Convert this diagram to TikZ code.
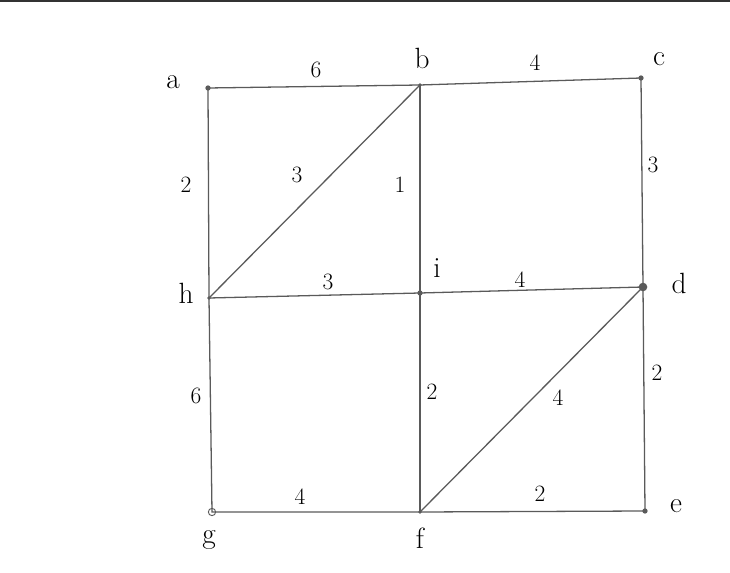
\documentclass[tikz,border=0pt]{standalone}
\usepackage{tikz}
\usetikzlibrary{calc,positioning}
\definecolor{pencil}{HTML}{5A5A5A}
\tikzset{
  edge/.style={draw=pencil,line width=1.1pt},
  dot/.style={circle,fill=pencil,inner sep=1.6pt},
  bigdot/.style={circle,fill=pencil,inner sep=2.6pt},
  vlabel/.style={font=\fontsize{25}{27}\selectfont},
  wlabel/.style={font=\fontsize{20}{22}\selectfont}
}

\begin{document}
\begin{tikzpicture}[x=0.03cm,y=-0.03cm]
  \useasboundingbox (0,0) rectangle (730,573);
  % frame line at the top
  \fill[black!80] (0,0) rectangle (730,2.5);
  % vertices
  \node[dot] (a) at (208,88) {};
  \node[dot,inner sep=1.2pt] (b) at (420,85) {};
  \node[dot] (c) at (641,78) {};
  \node[bigdot] (d) at (643,287) {};
  \node[dot] (e) at (645,511) {};
  \node[dot,inner sep=1.2pt] (f) at (420,512) {};
  \node[dot,fill=none,draw=pencil,thick,inner sep=2.2pt] (g) at (212,512) {};
  \node[dot,inner sep=1.2pt] (h) at (209,298) {};
  \node[dot] (i) at (420,293) {};
  % vertex names
  \node[vlabel] (la) at (173,82) {a};
  \node[vlabel] (lb) at (422,58) {b};
  \node[vlabel] (lc) at (659,59) {c};
  \node[vlabel] (ld) at (679,283) {d};
  \node[vlabel] (le) at (676,506) {e};
  \node[vlabel] (lf) at (420,538) {f};
  \node[vlabel] (lg) at (209,540) {g};
  \node[vlabel] (lh) at (186,293) {h};
  \node[vlabel] (li) at (437,268) {i};
  % edges
  \draw[edge] (a.center) -- (b.center) -- (c.center) -- (d.center) -- (e.center);
  \draw[edge] (a.center) -- (h.center) -- (g.center) -- (f.center) -- (e.center);
  \draw[edge] (b.center) -- (i.center) -- (f.center);
  \draw[edge] (h.center) -- (i.center) -- (d.center);
  \draw[edge] (h.center) -- (b.center);
  \draw[edge] (f.center) -- (d.center);
  % weights
  \node[wlabel] (wab) at (316,70) {6};
  \node[wlabel] (wbc) at (535,63) {4};
  \node[wlabel] (wah) at (186,185) {2};
  \node[wlabel] (whb) at (297,175) {3};
  \node[wlabel] (wbi) at (400,185) {1};
  \node[wlabel] (wcd) at (653,165) {3};
  \node[wlabel] (whi) at (328,282) {3};
  \node[wlabel] (wid) at (520,280) {4};
  \node[wlabel] (whg) at (196,396) {6};
  \node[wlabel] (wif) at (432,392) {2};
  \node[wlabel] (wfd) at (558,398) {4};
  \node[wlabel] (wde) at (657,373) {2};
  \node[wlabel] (wgf) at (300,497) {4};
  \node[wlabel] (wfe) at (540,494) {2};
\end{tikzpicture}
\end{document}
